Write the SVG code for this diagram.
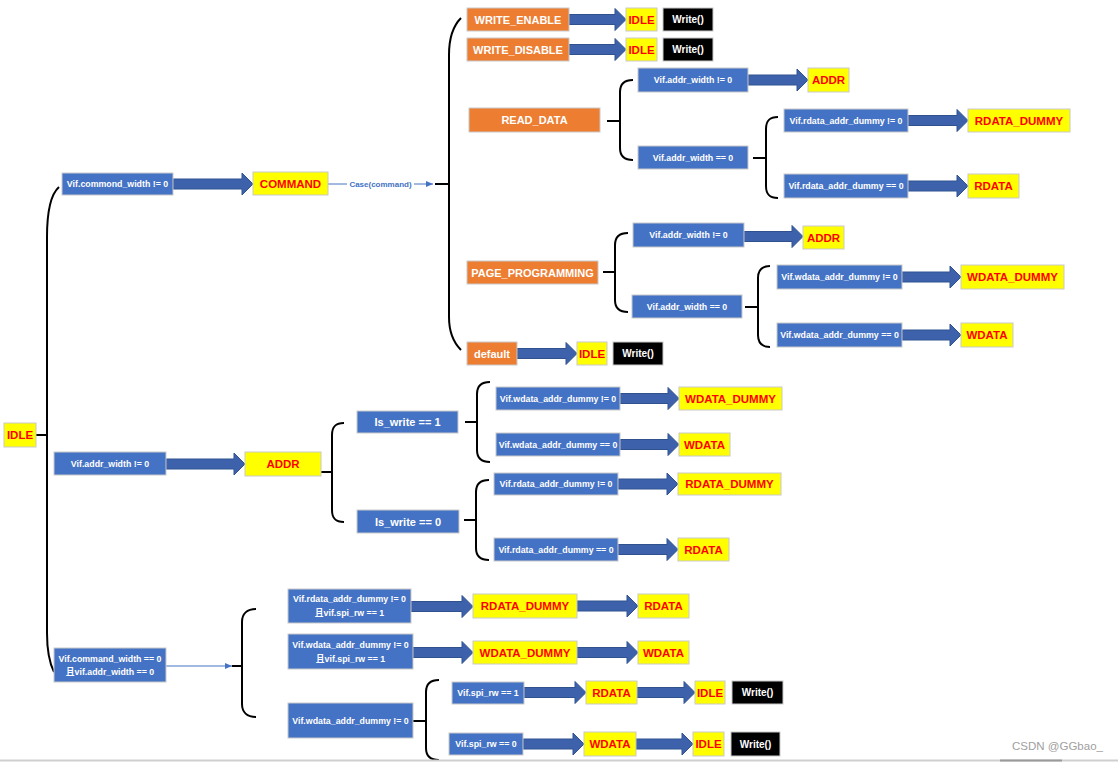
<svg xmlns="http://www.w3.org/2000/svg" width="1118" height="762" viewBox="0 0 1118 762">
<style>
.nb{fill:#4472C4;stroke:#C9C9C9;stroke-width:1}
.no{fill:#ED7D31;stroke:#C9C9C9;stroke-width:1}
.ny{fill:#FFFF00;stroke:#C9C9C9;stroke-width:1}
.nk{fill:#000000;stroke:#C9C9C9;stroke-width:1}
text{font-family:"Liberation Sans","Noto Sans CJK SC",Arial,sans-serif;font-weight:bold;text-anchor:middle;dominant-baseline:central}
.ts{fill:#fff;font-size:8.8px}
.tm{fill:#fff;font-size:11px}
.tr{fill:#FF0000;font-size:11.5px}
.tk{fill:#fff;font-size:10px}
.tc{fill:#4472C4;font-size:8px}
.arw{fill:#3D62AB;stroke:#2F528F;stroke-width:1}
.brace{fill:none;stroke:#000;stroke-width:2}
.thin{fill:none;stroke:#4472C4;stroke-width:1}
.thinA{fill:none;stroke:#4472C4;stroke-width:1;marker-end:url(#ah)}
</style>
<defs>
<marker id="ah" markerUnits="userSpaceOnUse" markerWidth="7" markerHeight="6" refX="7" refY="3" orient="auto">
<path d="M0 0 L7 3 L0 6 z" fill="#4472C4"/>
</marker>
</defs>
<rect x="0" y="0" width="1118" height="762" fill="#fff"/>

<g id="connectors">
<!-- braces -->
<path class="brace" d="M59 187 C50 195 47 215 47 237 L47 633 C47 650 49 662 54 672 M36 435 H47"/>
<path class="brace" d="M461 18 C453 26 449 40 449 55 L449 317 C449 332 453 342 461 350 M435 184 H449"/>
<path class="brace" d="M633 80 C624 80 620 84 620 92 L620 148 C620 156 624 160 633 160 M607 121 H620"/>
<path class="brace" d="M778 117 C769 117 766 121 766 129 L766 186 C766 194 769 198 778 198 M753 158 H766"/>
<path class="brace" d="M628 233 C619 233 615 237 615 245 L615 300 C615 308 619 312 628 312 M603 272 H615"/>
<path class="brace" d="M770 266 C762 266 758 270 758 278 L758 335 C758 343 762 347 770 347 M745 307 H758"/>
<path class="brace" d="M344 423 C335 423 332 427 332 435 L332 510 C332 518 335 522 344 522 M321 472 H332"/>
<path class="brace" d="M490 382 C481 382 477 386 477 394 L477 450 C477 458 481 462 490 462 M465 422 H477"/>
<path class="brace" d="M489 480 C480 480 476 484 476 492 L476 548 C476 556 480 560 489 560 M464 520 H476"/>
<path class="brace" d="M256 609 C247 609 242 614 242 622 L242 704 C242 712 247 717 256 717 M232 666 H242"/>
<path class="brace" d="M439 680 C430 680 426 684 426 692 L426 748 C426 756 430 760 439 760 M413 721 H426"/>
<!-- thin arrows -->
<path class="thin" d="M328 184 H347"/>
<path class="thinA" d="M414 184 H433"/>
<text class="tc" x="380.5" y="184">Case(command)</text>
<path class="thinA" d="M166 666 H232"/>
<!-- block arrows -->
<path class="arw" d="M569 14.5 H615 V8.5 L626 19.5 L615 30.5 V24.5 H569Z"/>
<path class="arw" d="M569 44.5 H615 V38.5 L626 49.5 L615 60.5 V54.5 H569Z"/>
<path class="arw" d="M748 75 H797 V69 L808 80 L797 91 V85 H748Z"/>
<path class="arw" d="M908 115.5 H957 V109.5 L968 120.5 L957 131.5 V125.5 H908Z"/>
<path class="arw" d="M908 181 H957 V175 L968 186 L957 197 V191 H908Z"/>
<path class="arw" d="M744 231.5 H792 V225.5 L803 236.5 L792 247.5 V241.5 H744Z"/>
<path class="arw" d="M902 272 H950 V266 L961 277 L950 288 V282 H902Z"/>
<path class="arw" d="M902 330 H950 V324 L961 335 L950 346 V340 H902Z"/>
<path class="arw" d="M517 348.5 H566 V342.5 L577 353.5 L566 364.5 V358.5 H517Z"/>
<path class="arw" d="M173 179 H242 V173 L253 184 L242 195 V189 H173Z"/>
<path class="arw" d="M166 459 H234 V453 L245 464 L234 475 V469 H166Z"/>
<path class="arw" d="M620 393.5 H668 V387.5 L679 398.5 L668 409.5 V403.5 H620Z"/>
<path class="arw" d="M620 439.5 H668 V433.5 L679 444.5 L668 455.5 V449.5 H620Z"/>
<path class="arw" d="M618 479 H667 V473 L678 484 L667 495 V489 H618Z"/>
<path class="arw" d="M618 544.5 H667 V538.5 L678 549.5 L667 560.5 V554.5 H618Z"/>
<path class="arw" d="M411 601.5 H462 V595.5 L473 606.5 L462 617.5 V611.5 H411Z"/>
<path class="arw" d="M577 601 H627 V595 L638 606 L627 617 V611 H577Z"/>
<path class="arw" d="M413 647.5 H462 V641.5 L473 652.5 L462 663.5 V657.5 H413Z"/>
<path class="arw" d="M577 647.5 H627 V641.5 L638 652.5 L627 663.5 V657.5 H577Z"/>
<path class="arw" d="M524 687.5 H575 V681.5 L586 692.5 L575 703.5 V697.5 H524Z"/>
<path class="arw" d="M637 687.5 H684 V681.5 L695 692.5 L684 703.5 V697.5 H637Z"/>
<path class="arw" d="M523 739 H573 V733 L584 744 L573 755 V749 H523Z"/>
<path class="arw" d="M636 739 H682 V733 L693 744 L682 755 V749 H636Z"/>
</g>

<!-- top: command cases -->
<g id="n_we"><rect class="no" x="467" y="8" width="102" height="23"/><text class="tm" x="518" y="19.5">WRITE_ENABLE</text></g>
<g id="n_we_idle"><rect class="ny" x="626" y="8" width="31" height="23"/><text class="tr" x="641.5" y="19.5">IDLE</text></g>
<g id="n_we_w"><rect class="nk" x="663" y="8" width="50" height="23"/><text class="tk" x="688" y="19.5">Write()</text></g>
<g id="n_wd"><rect class="no" x="467" y="38" width="102" height="23"/><text class="tm" x="518" y="49.5">WRITE_DISABLE</text></g>
<g id="n_wd_idle"><rect class="ny" x="626" y="38" width="31" height="23"/><text class="tr" x="641.5" y="49.5">IDLE</text></g>
<g id="n_wd_w"><rect class="nk" x="663" y="38" width="50" height="23"/><text class="tk" x="688" y="49.5">Write()</text></g>
<g id="n_rd"><rect class="no" x="469" y="108" width="131" height="24"/><text class="tm" x="534.5" y="120">READ_DATA</text></g>
<g id="n_rd_a1"><rect class="nb" x="638" y="68" width="110" height="24"/><text class="ts" x="693" y="80">Vif.addr_width != 0</text></g>
<g id="n_rd_addr"><rect class="ny" x="808" y="68" width="41" height="24"/><text class="tr" x="828.5" y="80">ADDR</text></g>
<g id="n_rd_a0"><rect class="nb" x="638" y="146" width="110" height="23"/><text class="ts" x="693" y="157.5">Vif.addr_width == 0</text></g>
<g id="n_rd_d1"><rect class="nb" x="784" y="109" width="124" height="23"/><text class="ts" x="846" y="120.5">Vif.rdata_addr_dummy != 0</text></g>
<g id="n_rd_rdd"><rect class="ny" x="968" y="109" width="102" height="23"/><text class="tr" x="1019" y="120.5">RDATA_DUMMY</text></g>
<g id="n_rd_d0"><rect class="nb" x="784" y="174" width="124" height="24"/><text class="ts" x="846" y="186">Vif.rdata_addr_dummy == 0</text></g>
<g id="n_rd_rdata"><rect class="ny" x="968" y="174" width="51" height="24"/><text class="tr" x="993.5" y="186">RDATA</text></g>
<g id="n_pp"><rect class="no" x="467" y="261" width="131" height="23"/><text class="tm" x="532.5" y="272.5">PAGE_PROGRAMMING</text></g>
<g id="n_pp_a1"><rect class="nb" x="633" y="223" width="111" height="24"/><text class="ts" x="688.5" y="235">Vif.addr_width != 0</text></g>
<g id="n_pp_addr"><rect class="ny" x="803" y="226" width="41" height="23"/><text class="tr" x="823.5" y="237.5">ADDR</text></g>
<g id="n_pp_a0"><rect class="nb" x="632" y="295" width="110" height="23"/><text class="ts" x="687" y="306.5">Vif.addr_width == 0</text></g>
<g id="n_pp_d1"><rect class="nb" x="777" y="265" width="125" height="24"/><text class="ts" x="839.5" y="277">Vif.wdata_addr_dummy != 0</text></g>
<g id="n_pp_wdd"><rect class="ny" x="961" y="265" width="103" height="24"/><text class="tr" x="1012.5" y="277">WDATA_DUMMY</text></g>
<g id="n_pp_d0"><rect class="nb" x="777" y="323" width="125" height="24"/><text class="ts" x="839.5" y="335">Vif.wdata_addr_dummy == 0</text></g>
<g id="n_pp_wdata"><rect class="ny" x="961" y="323" width="52" height="24"/><text class="tr" x="987" y="335">WDATA</text></g>
<g id="n_def"><rect class="no" x="467" y="342" width="50" height="23"/><text class="tm" x="492" y="353.5">default</text></g>
<g id="n_def_idle"><rect class="ny" x="577" y="342" width="30" height="23"/><text class="tr" x="592" y="353.5">IDLE</text></g>
<g id="n_def_w"><rect class="nk" x="613" y="342" width="50" height="23"/><text class="tk" x="638" y="353.5">Write()</text></g>

<!-- left -->
<g id="n_idle"><rect class="ny" x="4" y="423" width="32" height="24"/><text class="tr" x="20" y="435">IDLE</text></g>
<g id="n_cmdw"><rect class="nb" x="62" y="173" width="111" height="22"/><text class="ts" x="117.5" y="184">Vif.commond_width != 0</text></g>
<g id="n_cmd"><rect class="ny" x="253" y="172" width="75" height="23"/><text class="tr" x="290.5" y="183.5">COMMAND</text></g>
<g id="n_aw"><rect class="nb" x="54" y="452" width="112" height="23"/><text class="ts" x="110" y="463.5">Vif.addr_width != 0</text></g>
<g id="n_addr"><rect class="ny" x="245" y="452" width="76" height="24"/><text class="tr" x="283" y="464">ADDR</text></g>

<!-- ADDR branch -->
<g id="n_iw1"><rect class="nb" x="357" y="411" width="101" height="22"/><text class="tm" x="407.5" y="422">Is_write == 1</text></g>
<g id="n_iw0"><rect class="nb" x="357" y="510" width="102" height="23"/><text class="tm" x="408" y="521.5">Is_write == 0</text></g>
<g id="n_a_wd1"><rect class="nb" x="496" y="387" width="124" height="23"/><text class="ts" x="558" y="398.5">Vif.wdata_addr_dummy != 0</text></g>
<g id="n_a_wdd"><rect class="ny" x="679" y="387" width="103" height="23"/><text class="tr" x="730.5" y="398.5">WDATA_DUMMY</text></g>
<g id="n_a_wd0"><rect class="nb" x="496" y="433" width="124" height="23"/><text class="ts" x="558" y="444.5">Vif.wdata_addr_dummy == 0</text></g>
<g id="n_a_wdata"><rect class="ny" x="679" y="433" width="51" height="23"/><text class="tr" x="704.5" y="444.5">WDATA</text></g>
<g id="n_a_rd1"><rect class="nb" x="494" y="473" width="124" height="22"/><text class="ts" x="556" y="484">Vif.rdata_addr_dummy != 0</text></g>
<g id="n_a_rdd"><rect class="ny" x="678" y="473" width="103" height="22"/><text class="tr" x="729.5" y="484">RDATA_DUMMY</text></g>
<g id="n_a_rd0"><rect class="nb" x="494" y="538" width="124" height="23"/><text class="ts" x="556" y="549.5">Vif.rdata_addr_dummy == 0</text></g>
<g id="n_a_rdata"><rect class="ny" x="678" y="538" width="51" height="23"/><text class="tr" x="703.5" y="549.5">RDATA</text></g>

<!-- bottom branch -->
<g id="n_zero"><rect class="nb" x="54" y="648" width="112" height="34"/><text class="ts" x="110" y="658.5">Vif.command_width == 0</text><text class="ts" x="110" y="671.5">且vif.addr_width == 0</text></g>
<g id="n_b1"><rect class="nb" x="288" y="589" width="123" height="34"/><text class="ts" x="349.5" y="599">Vif.rdata_addr_dummy != 0</text><text class="ts" x="349.5" y="612.5">且vif.spi_rw == 1</text></g>
<g id="n_b1_rdd"><rect class="ny" x="473" y="594" width="104" height="24"/><text class="tr" x="525" y="606">RDATA_DUMMY</text></g>
<g id="n_b1_rdata"><rect class="ny" x="638" y="594" width="51" height="24"/><text class="tr" x="663.5" y="606">RDATA</text></g>
<g id="n_b2"><rect class="nb" x="288" y="634" width="125" height="35"/><text class="ts" x="350.5" y="645">Vif.wdata_addr_dummy != 0</text><text class="ts" x="350.5" y="658.5">且vif.spi_rw == 1</text></g>
<g id="n_b2_wdd"><rect class="ny" x="473" y="641" width="104" height="23"/><text class="tr" x="525" y="652.5">WDATA_DUMMY</text></g>
<g id="n_b2_wdata"><rect class="ny" x="638" y="641" width="51" height="23"/><text class="tr" x="663.5" y="652.5">WDATA</text></g>
<g id="n_b3"><rect class="nb" x="288" y="703" width="125" height="35"/><text class="ts" x="350.5" y="720.5">Vif.wdata_addr_dummy != 0</text></g>
<g id="n_s1"><rect class="nb" x="452" y="682" width="72" height="22"/><text class="ts" x="488" y="693">Vif.spi_rw == 1</text></g>
<g id="n_s1_rdata"><rect class="ny" x="586" y="681" width="51" height="23"/><text class="tr" x="611.5" y="692.5">RDATA</text></g>
<g id="n_s1_idle"><rect class="ny" x="695" y="681" width="30" height="23"/><text class="tr" x="710" y="692.5">IDLE</text></g>
<g id="n_s1_w"><rect class="nk" x="732" y="681" width="51" height="23"/><text class="tk" x="757.5" y="692.5">Write()</text></g>
<g id="n_s0"><rect class="nb" x="449" y="733" width="74" height="22"/><text class="ts" x="486" y="744">Vif.spi_rw == 0</text></g>
<g id="n_s0_wdata"><rect class="ny" x="584" y="732" width="52" height="24"/><text class="tr" x="610" y="744">WDATA</text></g>
<g id="n_s0_idle"><rect class="ny" x="693" y="732" width="31" height="24"/><text class="tr" x="708.5" y="744">IDLE</text></g>
<g id="n_s0_w"><rect class="nk" x="731" y="732" width="49" height="24"/><text class="tk" x="755.5" y="744">Write()</text></g>

<line x1="0" y1="760.5" x2="1118" y2="760.5" stroke="#CFCFCF" stroke-width="2"/>
<line x1="1000" y1="760.5" x2="1062" y2="760.5" stroke="#9A9A9A" stroke-width="2"/>
<text x="1012" y="746" style="font-weight:normal;text-anchor:start;font-size:11.5px;fill:#A0A0A0">CSDN @GGbao_</text>
</svg>
